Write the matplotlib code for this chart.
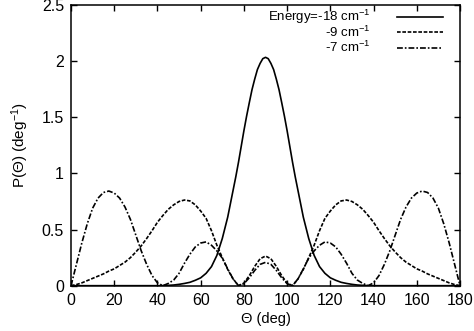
"""Angular distribution P(theta) for three energy levels, gnuplot-like look."""

import matplotlib

matplotlib.use("Agg")
import matplotlib.pyplot as plt

plt.rcParams["font.family"] = ["Liberation Sans", "DejaVu Sans"]
plt.rcParams["mathtext.fontset"] = "custom"
plt.rcParams["mathtext.rm"] = "Liberation Sans"
plt.rcParams["mathtext.default"] = "regular"

# angle grid (deg), 2.5 deg step
theta = [i * 2.5 for i in range(73)]

# Energy = -18 cm^-1 (solid) - finer steps around the central peak
theta_18 = [
    0, 10, 20, 30, 40, 42.5, 45, 47.5, 50, 52.5, 55, 57.5, 60, 62.5,
    65, 67.5, 70, 72.5, 75, 76.25, 77.5, 78.75, 80, 81.25, 82.5, 83.75,
    85, 86.25, 87.5, 88.75, 90, 91.25, 92.5, 93.75, 95, 96.25, 97.5,
    98.75, 100, 101.25, 102.5, 103.75, 105, 107.5, 110, 112.5, 115,
    117.5, 120, 122.5, 125, 127.5, 130, 132.5, 135, 137.5, 140, 150,
    160, 170, 180,
]
p_18 = [
    0, 0, 0, 0, 0, 0.001, 0.003, 0.006, 0.012, 0.02, 0.03, 0.048, 0.07,
    0.11, 0.17, 0.27, 0.42, 0.61, 0.85, 0.97, 1.1, 1.24, 1.38, 1.51,
    1.63, 1.746, 1.84, 1.925, 1.98, 2.022, 2.034, 2.022, 1.98, 1.925,
    1.84, 1.746, 1.63, 1.51, 1.38, 1.24, 1.1, 0.97, 0.85, 0.61, 0.42,
    0.27, 0.17, 0.11, 0.07, 0.048, 0.03, 0.02, 0.012, 0.006, 0.003,
    0.001, 0, 0, 0, 0, 0,
]

# -9 cm^-1 (dashed)
p_9 = [
    0, 0.01, 0.025, 0.045, 0.065, 0.085, 0.105, 0.13, 0.15, 0.18,
    0.21, 0.25, 0.3, 0.355, 0.42, 0.49, 0.565, 0.625, 0.68, 0.72,
    0.75, 0.763, 0.755, 0.72, 0.665, 0.6, 0.49, 0.36, 0.25, 0.145,
    0.06, 0.0, 0.023, 0.089, 0.172, 0.24, 0.264,
    0.24, 0.172, 0.089, 0.023, 0.0, 0.06, 0.145, 0.25, 0.36, 0.49,
    0.6, 0.665, 0.72, 0.755, 0.763, 0.75, 0.72, 0.68, 0.625, 0.565,
    0.49, 0.42, 0.355, 0.3, 0.25, 0.21, 0.18, 0.15, 0.13, 0.105,
    0.085, 0.065, 0.045, 0.025, 0.01, 0,
]

# -7 cm^-1 (dash-dot)
p_7 = [
    0, 0.19, 0.38, 0.55, 0.69, 0.78, 0.83, 0.843, 0.825, 0.78,
    0.7, 0.59, 0.45, 0.31, 0.19, 0.09, 0.025, 0.0, 0.02, 0.05,
    0.11, 0.2, 0.28, 0.345, 0.38, 0.39, 0.36, 0.31, 0.245, 0.15,
    0.06, 0.0, 0.018, 0.07, 0.136, 0.19, 0.208,
    0.19, 0.136, 0.07, 0.018, 0.0, 0.06, 0.15, 0.245, 0.31, 0.36,
    0.39, 0.38, 0.345, 0.28, 0.2, 0.11, 0.05, 0.02, 0.0, 0.025,
    0.09, 0.19, 0.31, 0.45, 0.59, 0.7, 0.78, 0.825, 0.843, 0.83,
    0.78, 0.69, 0.55, 0.38, 0.19, 0,
]

labels = ["Energy=-18 cm$^{-1}$", "-9 cm$^{-1}$", "-7 cm$^{-1}$"]
x_ticks = list(range(0, 181, 20))
y_ticks = [0, 0.5, 1, 1.5, 2, 2.5]
y_tick_labels = ["0", "0.5", "1", "1.5", "2", "2.5"]

LW = 1.2
styles = [
    dict(linestyle="-"),
    dict(linestyle=(0, (2.2, 1.0))),
    dict(linestyle=(0, (3.5, 1.2, 1.0, 1.2))),
]

fig = plt.figure(figsize=(4.74, 3.31), dpi=100)
ax = fig.add_axes([0.1498, 0.1369, 0.8207, 0.848])

series = [(theta_18, p_18), (theta, p_9), (theta, p_7)]
for (xs, values), style in zip(series, styles):
    ax.plot(xs, values, color="black", linewidth=LW, **style)

ax.set_xlim(0, 180)
ax.set_ylim(0, 2.5)
ax.set_xticks(x_ticks)
ax.set_xticklabels([str(t) for t in x_ticks])
ax.set_yticks(y_ticks)
ax.set_yticklabels(y_tick_labels)
ax.tick_params(direction="in", length=4.5, width=1.0, top=True, right=True,
               labelsize=11.5, pad=5, colors="black")
for spine in ax.spines.values():
    spine.set_linewidth(1.1)

ax.set_xlabel("\u0398 (deg)", fontsize=10.5, labelpad=3)
ax.set_ylabel("P(\u0398) (deg$^{-1}$)", fontsize=11, labelpad=8)

# gnuplot-style key: right-aligned text, line sample on the right
key_rows = [0.958, 0.903, 0.848]
for label, style, yk in zip(labels, styles, key_rows):
    ax.text(0.77, yk, label, transform=ax.transAxes, ha="right", va="center",
            fontsize=9.5)
    ax.plot([0.838, 0.956], [yk, yk], transform=ax.transAxes,
            color="black", linewidth=LW, **style)

fig.savefig("out.png", dpi=100)
